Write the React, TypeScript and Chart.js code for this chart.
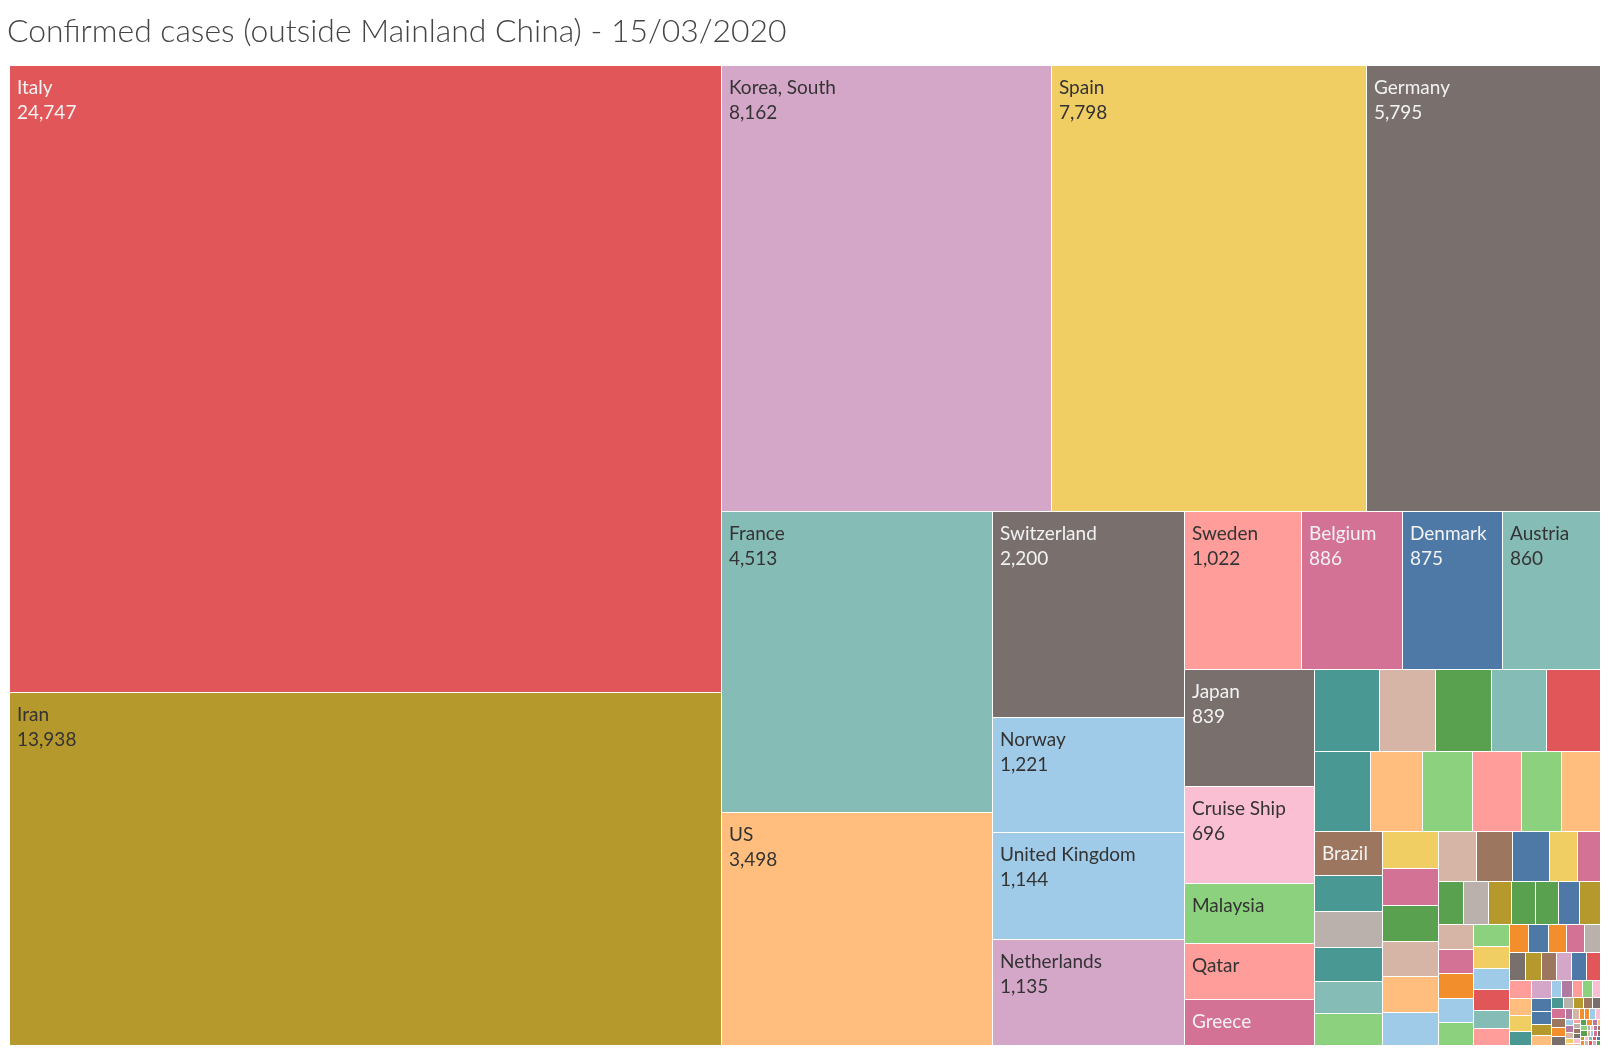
import { useEffect, useRef } from "react";
import { Chart, DatasetController, registerables } from "chart.js";

const title = "Confirmed cases (outside Mainland China) - 15/03/2020";

// Tableau 20 colours
const red = "#E15759", gold = "#B6992D", mauve = "#D4A6C8", yellow = "#F1CE63", grey = "#79706E";
const lteal = "#86BCB6", peach = "#FFBE7D", blue = "#4E79A7", salmon = "#FF9D9A", pink = "#D37295";
const lblue = "#A0CBE8", dteal = "#499894", tan = "#D7B5A6", green = "#59A14F", lgreen = "#8CD17D";
const lpink = "#FABFD2", orange = "#F28E2B", brown = "#9D7660", taupe = "#BAB0AC", purple = "#B07AA1";

const lightText = [red, grey, pink, blue, brown];

const names = [
  "Italy", "Iran", "Korea, South", "Spain", "Germany", "France", "US",
  "Switzerland", "Norway", "United Kingdom", "Netherlands",
  "Sweden", "Belgium", "Denmark", "Austria",
  "Japan", "Cruise Ship", "Malaysia", "Qatar", "Greece",
];
const brazilIndex = 31;

const values = [
  24747, 13938, 8162, 7798, 5795, 4513, 3498,
  2200, 1221, 1144, 1135,
  1022, 886, 875, 860,
  839, 696, 428, 401, 331,
  297, 253, 252, 251, 245,
  249, 230, 223, 218, 175, 175,
  166, 139, 134, 132, 121, 121,
  116, 114, 112, 110, 110, 103,
  106, 102, 101, 79, 65,
  58, 58, 56, 55, 54, 50, 49,
  49, 48, 48, 48, 44,
  44, 42, 42, 42, 35, 33,
  30, 30, 28, 28, 25,
  25, 25, 24, 23, 23, 22,
  22, 21, 20, 17,
  20, 15, 14, 12, 11,
  10, 10, 10, 9, 8,
  8, 6, 6, 6, 5,
  7, 7, 7, 7,
  4, 4, 3, 3, 3, 3,
  3, 3, 3, 2, 1,
  2, 2, 2, 2, 2, 1,
  2, 2, 2, 1,
  2, 1, 1, 1, 1,
  2, 1, 1, 1, 1,
  1, 1, 1, 1, 1,
  1, 1, 1, 1, 1,
];

const colors = [
  red, gold, mauve, yellow, grey, lteal, peach,
  grey, lblue, lblue, mauve,
  salmon, pink, blue, lteal,
  grey, lpink, lgreen, salmon, pink,
  dteal, tan, green, lteal, red,
  dteal, peach, lgreen, salmon, lgreen, peach,
  brown, dteal, taupe, dteal, lteal, lgreen,
  yellow, pink, green, tan, peach, lblue,
  tan, brown, blue, yellow, pink,
  green, taupe, gold, green, green, blue, gold,
  tan, pink, orange, lblue, lgreen,
  lgreen, yellow, lblue, red, lteal, salmon,
  orange, blue, orange, pink, taupe,
  grey, gold, brown, mauve, blue, red,
  salmon, peach, yellow, dteal,
  mauve, blue, blue, gold, peach,
  lblue, purple, salmon, lgreen, lpink,
  dteal, taupe, gold, brown, grey,
  pink, brown, orange, grey,
  purple, tan, orange, orange, lblue, lpink,
  lblue, purple, tan, yellow, peach,
  salmon, taupe, brown, grey, lpink, tan,
  green, orange, purple, peach,
  lgreen, taupe, lpink, purple, brown,
  green, tan, lblue, pink, grey,
  gold, lpink, lteal, red, blue,
  orange, tan, red, mauve, green,
];

// How the treemap is cut. Each level alternates direction, a number is that
// many cells in a row, taken from values in order.
const nesting = [2, [3, [2, 4, [4, [5, [5, 6, [6, 6, [5, 7, [5, 6, [5, 6, [4, 5, [5, 5, [4, [6, [5, 6, [4, 5, 5, 5, 5]]]]]]]]]]]]]]]];

const countCells = (node: any): number =>
  typeof node === "number" ? node : node.reduce((s: number, c: any) => s + countCells(c), 0);

function sliceCells(node: any, first: number, box: any, splitX: boolean, out: any[]) {
  if (node === 1) {
    out.push({ x: box.x0, y: box.y0, x2: box.x1, y2: box.y1 });
    return;
  }
  const children = typeof node === "number" ? new Array(node).fill(1) : node;
  const sumFrom = (from: number, n: number) =>
    values.slice(from, from + n).reduce((a, b) => a + b, 0);
  const total = sumFrom(first, countCells(node));
  let index = first;
  let done = 0;
  for (const child of children) {
    const n = countCells(child);
    const part = sumFrom(index, n);
    const a = done / total;
    const b = (done + part) / total;
    const sub = splitX
      ? { x0: box.x0 + (box.x1 - box.x0) * a, x1: box.x0 + (box.x1 - box.x0) * b, y0: box.y0, y1: box.y1 }
      : { x0: box.x0, x1: box.x1, y0: box.y0 + (box.y1 - box.y0) * a, y1: box.y0 + (box.y1 - box.y0) * b };
    sliceCells(child, index, sub, !splitX, out);
    index += n;
    done += part;
  }
}

class TreemapController extends DatasetController {
  static id = "treemap";
  static defaults = { dataElementType: "bar", datasetElementType: false };

  update() {
    const meta: any = this._cachedMeta;
    const { x: xScale, y: yScale } = this.chart.scales;
    const data: any[] = this.getDataset().data as any[];
    meta.data.forEach((el: any, i: number) => {
      const d = data[i];
      const left = Math.round(xScale.getPixelForValue(d.x));
      const right = Math.round(xScale.getPixelForValue(d.x2));
      const top = Math.round(yScale.getPixelForValue(d.y));
      const bottom = Math.round(yScale.getPixelForValue(d.y2));
      // 1px white gap on the right and bottom of every cell
      Object.assign(el, {
        x: (left + right - 1) / 2,
        width: right - left - 1,
        y: top,
        base: bottom - 1,
        horizontal: false,
        inflateAmount: 0,
        borderSkipped: {},
        enableBorderRadius: false,
        options: {
          backgroundColor: colors[i],
          borderColor: "transparent",
          borderWidth: 0,
          borderRadius: 0,
        },
      });
    });
  }
}

Chart.register(...registerables, TreemapController as any);

const cellLabels = {
  id: "cellLabels",
  afterDatasetsDraw(chart: any) {
    const ctx = chart.ctx;
    const els = chart.getDatasetMeta(0).data;
    ctx.save();
    ctx.font = "19px Lato";
    ctx.textBaseline = "middle";
    const draw = (i: number, name: string) => {
      const el = els[i];
      const left = el.x - el.width / 2;
      ctx.fillStyle = lightText.includes(colors[i]) ? "#F2F2F2" : "#333333";
      ctx.fillText(name, left + 7, el.y + 22);
      // value line only when the cell is tall enough for two lines
      if (el.base - el.y > 70) {
        ctx.fillText(values[i].toLocaleString("en-US"), left + 7, el.y + 47);
      }
    };
    names.forEach((name, i) => draw(i, name));
    draw(brazilIndex, "Brazil");
    ctx.restore();
  },
};

export default function App() {
  const canvasRef = useRef<HTMLCanvasElement>(null);

  useEffect(() => {
    if (!canvasRef.current) return;
    const cells: any[] = [];
    sliceCells(nesting, 0, { x0: 0, x1: 1, y0: 0, y1: 1 }, true, cells);

    const chart = new Chart(canvasRef.current, {
      type: "treemap" as any,
      data: { datasets: [{ data: cells }] } as any,
      plugins: [cellLabels],
      options: {
        animation: false,
        responsive: false,
        events: [],
        layout: { padding: { left: 10, right: 10, top: 66, bottom: 17 } },
        plugins: { legend: { display: false }, tooltip: { enabled: false } },
        scales: {
          x: { type: "linear", min: 0, max: 1, display: false },
          y: { type: "linear", min: 0, max: 1, reverse: true, display: false },
        },
      },
    });
    return () => chart.destroy();
  }, []);

  return (
    <div style={{ position: "absolute", left: 0, top: 0, width: 1611, height: 1063, background: "#fff" }}>
      <div
        style={{
          position: "absolute",
          left: 7,
          top: 11,
          font: "300 31.9px Lato",
          color: "#444",
          whiteSpace: "nowrap",
        }}
      >
        {title}
      </div>
      <canvas ref={canvasRef} width={1611} height={1063} style={{ display: "block" }} />
    </div>
  );
}
